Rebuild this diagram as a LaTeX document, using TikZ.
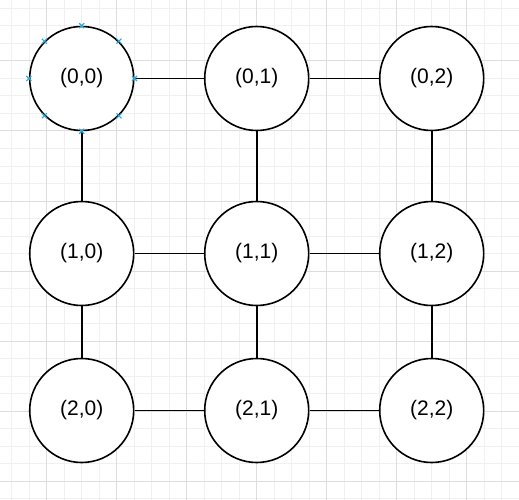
\documentclass[tikz,border=0pt]{standalone}
\usepackage{fontspec}
\setmainfont{Liberation Sans}
\usepackage{tikz}
\definecolor{gridminor}{HTML}{F0F0F0}
\definecolor{gridmajor}{HTML}{DDDDDD}
\definecolor{handleblue}{HTML}{29A8E0}

\begin{document}
\begin{tikzpicture}[x=1pt,y=-1pt,
    cell/.style={circle,draw,line width=1.6pt,fill=white,minimum size=104pt,inner sep=0pt,font=\fontsize{21}{25}\selectfont},
    link/.style={line width=1.6pt},
    handle/.style={handleblue,line width=1.1pt}]
    \useasboundingbox (0,0) rectangle (519,500);
    % grid
    \foreach \gx in {0,...,29} \draw[gridminor,line width=1pt] ({11.7+17.5*\gx},0) -- ++(0,500);
    \foreach \gy in {0,...,28} \draw[gridminor,line width=1pt] (0,{8.5+17.5*\gy}) -- ++(519,0);
    \foreach \gx in {0,...,7} \draw[gridmajor,line width=1pt] ({46.7+70*\gx},0) -- ++(0,500);
    \foreach \gy in {0,...,6} \draw[gridmajor,line width=1pt] (0,{61+70*\gy}) -- ++(519,0);

    \node[cell] (n00) at (81.7,78.5) {(0,0)};
    \node[cell] (n01) at (256.7,78.5) {(0,1)};
    \node[cell] (n02) at (431.7,78.5) {(0,2)};
    \node[cell] (n10) at (81.7,253.5) {(1,0)};
    \node[cell] (n11) at (256.7,253.5) {(1,1)};
    \node[cell] (n12) at (431.7,253.5) {(1,2)};
    \node[cell] (n20) at (81.7,410.5) {(2,0)};
    \node[cell] (n21) at (256.7,410.5) {(2,1)};
    \node[cell] (n22) at (431.7,410.5) {(2,2)};

    \draw[link] (n00) -- (n01);
    \draw[link] (n01) -- (n02);
    \draw[link] (n10) -- (n11);
    \draw[link] (n11) -- (n12);
    \draw[link] (n20) -- (n21);
    \draw[link] (n21) -- (n22);
    \draw[link] (n00) -- (n10);
    \draw[link] (n10) -- (n20);
    \draw[link] (n01) -- (n11);
    \draw[link] (n11) -- (n21);
    \draw[link] (n02) -- (n12);
    \draw[link] (n12) -- (n22);

    % selection handles
    \foreach \a in {0,45,...,315}
        \draw[handle] (n00.\a) +(-2.5,-2.5) -- +(2.5,2.5) +(-2.5,2.5) -- +(2.5,-2.5);
\end{tikzpicture}
\end{document}
